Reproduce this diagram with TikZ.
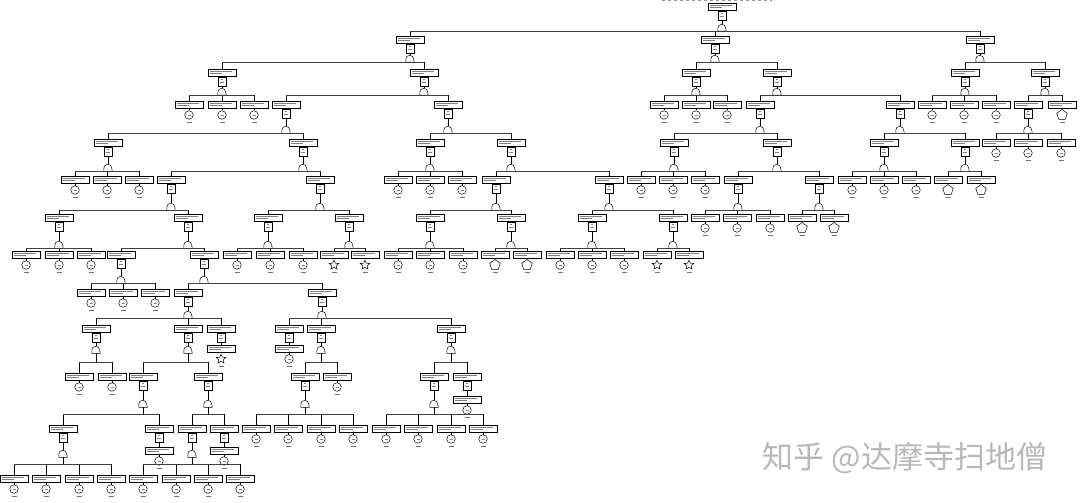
\documentclass[tikz,border=0pt]{standalone}
\usepackage{fontspec}
\newfontfamily\cjkfont{Noto Sans CJK SC}
\usetikzlibrary{shapes.geometric}

\tikzset{
  txt/.style={black!50, line width=0.9pt},
  evbox/.style={draw, fill=white, minimum width=28pt, minimum height=7pt, inner sep=0pt,
    path picture={
      \draw[txt] ([xshift=2pt,yshift=-2.2pt]path picture bounding box.north west) -- ++(22pt,0pt);
      \draw[txt] ([xshift=2pt,yshift=-4.7pt]path picture bounding box.north west) -- ++(12pt,0pt);}},
  idbox/.style={draw, fill=white, minimum width=8pt, minimum height=9pt, inner sep=0pt,
    path picture={
      \draw[txt, line width=0.6pt] ([xshift=-1pt,yshift=-2.5pt]path picture bounding box.north) -- ++(2pt,0pt);
      \draw[txt, line width=0.6pt] ([xshift=-2pt,yshift=-5.5pt]path picture bounding box.north) -- ++(4pt,0pt);}},
  gatebox/.style={minimum width=8pt, minimum height=7pt, inner sep=0pt},
  gateline/.style={draw, fill=white},
  bev/.style={draw, circle, fill=white, minimum size=8.5pt, inner sep=0pt,
    path picture={\draw[txt, line width=0.8pt] ([xshift=-1.5pt]path picture bounding box.center) -- ++(3pt,0pt);}},
  hev/.style={draw, regular polygon, regular polygon sides=5, fill=white, minimum size=11pt, inner sep=0pt},
  sev/.style={draw, star, star points=5, star point ratio=2.2, fill=white, minimum size=10pt, inner sep=0pt},
  lbl/.style={black!55, line width=0.8pt},
  bus/.style={black!75, line width=0.8pt}
}

% event box with its id box
\newcommand{\evnode}[3]{%
  \node[evbox] (#1) at (#2,#3+3.5) {};
  \node[idbox] (#1-id) at (#2,#3+12.5) {};
  \draw (#1.south) -- (#1-id.north);}
% gate under an event, bus at #4
\newcommand{\gatenode}[4]{%
  \node[gatebox] (#1-g) at (#2,#3-3.5) {};
  \coordinate (#1-b) at (#2,#4);
  \draw (#1-id.south) -- (#1-g.north);
  \draw[gateline] (#1-g.south west) -- ([yshift=3pt]#1-g.south west)
    arc[start angle=180,end angle=0,radius=4pt] -- (#1-g.south east) -- cycle;
  \draw (#1-g.south) -- (#1-b);}
\newcommand{\gev}[5]{\evnode{#1}{#2}{#3}\gatenode{#1}{#2}{#4}{#5}}
% leaf event: style, name, x, y
\newcommand{\leaf}[4]{%
  \node[evbox] (#2) at (#3,#4+3.5) {};
  \node[#1] (#2-c) at (#3,#4+14) {};
  \draw (#2.south) -- (#2-c.north);
  \draw[lbl] (#3-2.5,#4+21) -- (#3+2.5,#4+21);}
\newcommand{\kid}[2]{\draw (#2.north) -- (#2.north |- #1-b);}
\newcommand{\busline}[3]{\draw[bus] (#2.north |- #1-b) -- (#3.north |- #1-b);}
\newcommand{\leaves}[4]{\foreach \n/\x in {#4} {\leaf{#1}{#2e\n}{\x}{#3} \kid{#2}{#2e\n}}}

\begin{document}
\begin{tikzpicture}[x=1pt,y=-1pt,line width=0.5pt]
\fill[white] (0,0) rectangle (1080,503);
\useasboundingbox (0,0) rectangle (1080,503);
\draw[black!40,dashed,line width=1pt] (662,1) -- (772,1);

% top
\gev{t}{722}{3}{31}{31}
\gev{a}{410}{36}{62}{62}
\gev{b}{715}{36}{62}{62}
\gev{c}{980}{36}{62}{62}
\foreach \k in {a,b,c} {\kid{t}{\k}}
\busline{t}{a}{c}

% second level
\gev{a1}{222}{69}{95}{95}
\gev{a2}{424}{69}{95}{95}
\gev{b1}{696}{69}{95}{95}
\gev{b2}{777}{69}{95}{95}
\gev{c1}{965}{69}{95}{95}
\gev{c2}{1045}{69}{95}{95}
\foreach \p/\k in {a/a1,a/a2,b/b1,b/b2,c/c1,c/c2} {\kid{\p}{\k}}
\busline{a}{a1}{a2} \busline{b}{b1}{b2} \busline{c}{c1}{c2}

% third level
\leaves{bev}{a1}{101}{1/189,2/222,3/254} \busline{a1}{a1e1}{a1e3}
\gev{a2a}{286}{101}{133}{133}
\gev{a2b}{448}{101}{133}{133}
\kid{a2}{a2a} \kid{a2}{a2b} \busline{a2}{a2a}{a2b}
\leaves{bev}{b1}{101}{1/664,2/696,3/727} \busline{b1}{b1e1}{b1e3}
\gev{b2a}{760}{101}{133}{133}
\gev{b2b}{900}{101}{133}{133}
\kid{b2}{b2a} \kid{b2}{b2b} \busline{b2}{b2a}{b2b}
\leaves{bev}{c1}{101}{1/932,2/964,3/996} \busline{c1}{c1e1}{c1e3}
\gev{c2a}{1028}{101}{133}{133}
\leaf{hev}{c2h}{1062}{101}
\kid{c2}{c2a} \kid{c2}{c2h} \busline{c2}{c2a}{c2h}

% fourth level
\gev{a2a1}{108}{139}{171}{171}
\gev{a2a2}{303}{139}{171}{171}
\gev{a2b1}{430}{139}{171}{171}
\gev{a2b2}{511}{139}{171}{171}
\gev{b2a1}{674}{139}{171}{171}
\gev{b2a2}{777}{139}{171}{171}
\gev{b2b1}{884}{139}{171}{171}
\gev{b2b2}{965}{139}{171}{171}
\foreach \p/\k in {a2a/a2a1,a2a/a2a2,a2b/a2b1,a2b/a2b2,b2a/b2a1,b2a/b2a2,b2b/b2b1,b2b/b2b2} {\kid{\p}{\k}}
\busline{a2a}{a2a1}{a2a2} \busline{a2b}{a2b1}{a2b2}
\busline{b2a}{b2a1}{b2a2} \busline{b2b}{b2b1}{b2b2}
\leaves{bev}{c2a}{139}{1/996,2/1028,3/1061} \busline{c2a}{c2ae1}{c2ae3}

% fifth level
\leaves{bev}{a2a1}{176}{1/75,2/107,3/139} \busline{a2a1}{a2a1e1}{a2a1e3}
\gev{a2a2a}{171}{176}{210}{210}
\gev{a2a2b}{320}{176}{210}{210}
\kid{a2a2}{a2a2a} \kid{a2a2}{a2a2b} \busline{a2a2}{a2a2a}{a2a2b}
\leaves{bev}{a2b1}{176}{1/398,2/430,3/462} \busline{a2b1}{a2b1e1}{a2b1e3}
\gev{a2b2a}{496}{176}{210}{210}
\gev{a2b2b}{609}{176}{210}{210}
\kid{a2b2}{a2b2a} \kid{a2b2}{a2b2b} \busline{a2b2}{a2b2a}{a2b2b}
\leaves{bev}{b2a1}{176}{1/641,2/673,3/705} \busline{b2a1}{b2a1e1}{b2a1e3}
\gev{b2a2a}{738}{176}{210}{210}
\gev{b2a2b}{819}{176}{210}{210}
\kid{b2a2}{b2a2a} \kid{b2a2}{b2a2b} \busline{b2a2}{b2a2a}{b2a2b}
\leaves{bev}{b2b1}{176}{1/852,2/884,3/916} \busline{b2b1}{b2b1e1}{b2b1e3}
\leaves{hev}{b2b2}{176}{1/948,2/981} \busline{b2b2}{b2b2e1}{b2b2e2}

% sixth level
\gev{a2a2a1}{59}{214}{248}{248}
\gev{f}{188}{214}{248}{248}
\gev{a2a2b1}{268}{214}{248}{248}
\gev{a2a2b2}{349}{214}{248}{248}
\gev{a2b2a1}{430}{214}{248}{248}
\gev{a2b2a2}{511}{214}{248}{248}
\gev{a2b2b1}{592}{214}{248}{248}
\gev{a2b2b2}{673}{214}{248}{248}
\foreach \p/\k in {a2a2a/a2a2a1,a2a2a/f,a2a2b/a2a2b1,a2a2b/a2a2b2,a2b2a/a2b2a1,a2b2a/a2b2a2,a2b2b/a2b2b1,a2b2b/a2b2b2} {\kid{\p}{\k}}
\busline{a2a2a}{a2a2a1}{f} \busline{a2a2b}{a2a2b1}{a2a2b2}
\busline{a2b2a}{a2b2a1}{a2b2a2} \busline{a2b2b}{a2b2b1}{a2b2b2}
\leaves{bev}{b2a2a}{214}{1/705,2/737,3/770} \busline{b2a2a}{b2a2ae1}{b2a2ae3}
\leaves{hev}{b2a2b}{214}{1/802,2/834} \busline{b2a2b}{b2a2be1}{b2a2be2}

% seventh level
\leaves{bev}{a2a2a1}{251}{1/26,2/59,3/91} \busline{a2a2a1}{a2a2a1e1}{a2a2a1e3}
\gev{f1}{121}{251}{283}{283}
\gev{f2}{204}{251}{283}{283}
\kid{f}{f1} \kid{f}{f2} \busline{f}{f1}{f2}
\leaves{bev}{a2a2b1}{251}{1/237,2/270,3/303} \busline{a2a2b1}{a2a2b1e1}{a2a2b1e3}
\leaves{sev}{a2a2b2}{251}{1/334,2/365} \busline{a2a2b2}{a2a2b2e1}{a2a2b2e2}
\leaves{bev}{a2b2a1}{251}{1/398,2/430,3/463} \busline{a2b2a1}{a2b2a1e1}{a2b2a1e3}
\leaves{hev}{a2b2a2}{251}{1/495,2/527} \busline{a2b2a2}{a2b2a2e1}{a2b2a2e2}
\leaves{bev}{a2b2b1}{251}{1/560,2/592,3/624} \busline{a2b2b1}{a2b2b1e1}{a2b2b1e3}
\leaves{sev}{a2b2b2}{251}{1/657,2/689} \busline{a2b2b2}{a2b2b2e1}{a2b2b2e2}

% eighth level
\leaves{bev}{f1}{289}{1/91,2/123,3/155} \busline{f1}{f1e1}{f1e3}
\gev{g}{188}{289}{318}{318}
\gev{h}{322}{289}{318}{318}
\kid{f2}{g} \kid{f2}{h} \busline{f2}{g}{h}

% ninth level
\gev{g1}{96}{325}{353}{362}
\gev{g2}{188}{325}{353}{362}
\evnode{g3}{221}{325}
\leaf{sev}{g3x}{221}{345} \draw (g3-id.south) -- (g3x.north);
\foreach \k in {g1,g2,g3} {\kid{g}{\k}}
\busline{g}{g1}{g3}
\evnode{h1}{289}{325}
\leaf{bev}{h1x}{289}{345} \draw (h1-id.south) -- (h1x.north);
\gev{h2}{321}{325}{353}{362}
\gev{h3}{451}{325}{353}{362}
\foreach \k in {h1,h2,h3} {\kid{h}{\k}}
\busline{h}{h1}{h3}

% tenth level
\leaves{bev}{g1}{373}{1/79,2/112} \busline{g1}{g1e1}{g1e2}
\gev{g2a}{143}{373}{407}{414}
\gev{g2b}{208}{373}{407}{414}
\kid{g2}{g2a} \kid{g2}{g2b} \busline{g2}{g2a}{g2b}
\gev{h2a}{305}{373}{407}{414}
\leaf{bev}{h2e}{337}{373}
\kid{h2}{h2a} \kid{h2}{h2e} \busline{h2}{h2a}{h2e}
\gev{h3a}{434}{373}{407}{414}
\evnode{h3b}{467}{373}
\leaf{bev}{h3x}{467}{396} \draw (h3b-id.south) -- (h3x.north);
\kid{h3}{h3a} \kid{h3}{h3b} \busline{h3}{h3a}{h3b}

% eleventh level
\gev{g2a1}{63}{425}{457}{464}
\evnode{g2a2}{159}{425}
\leaf{bev}{g2a2x}{159}{447} \draw (g2a2-id.south) -- (g2a2x.north);
\kid{g2a}{g2a1} \kid{g2a}{g2a2} \busline{g2a}{g2a1}{g2a2}
\gev{g2b1}{192}{425}{457}{464}
\evnode{g2b2}{224}{425}
\leaf{bev}{g2b2x}{224}{447} \draw (g2b2-id.south) -- (g2b2x.north);
\kid{g2b}{g2b1} \kid{g2b}{g2b2} \busline{g2b}{g2b1}{g2b2}
\leaves{bev}{h2a}{425}{1/256,2/288,3/321,4/353} \busline{h2a}{h2ae1}{h2ae4}
\leaves{bev}{h3a}{425}{1/386,2/418,3/451,4/483} \busline{h3a}{h3ae1}{h3ae4}

% bottom level
\leaves{bev}{g2a1}{475}{1/14,2/46,3/79,4/111} \busline{g2a1}{g2a1e1}{g2a1e4}
\leaves{bev}{g2b1}{475}{1/143,2/176,3/208,4/240} \busline{g2b1}{g2b1e1}{g2b1e4}

\node[text=black!28, font=\cjkfont\fontsize{31}{31}\selectfont] (wm) at (905,458) {知乎 @达摩寺扫地僧};
\end{tikzpicture}
\end{document}
